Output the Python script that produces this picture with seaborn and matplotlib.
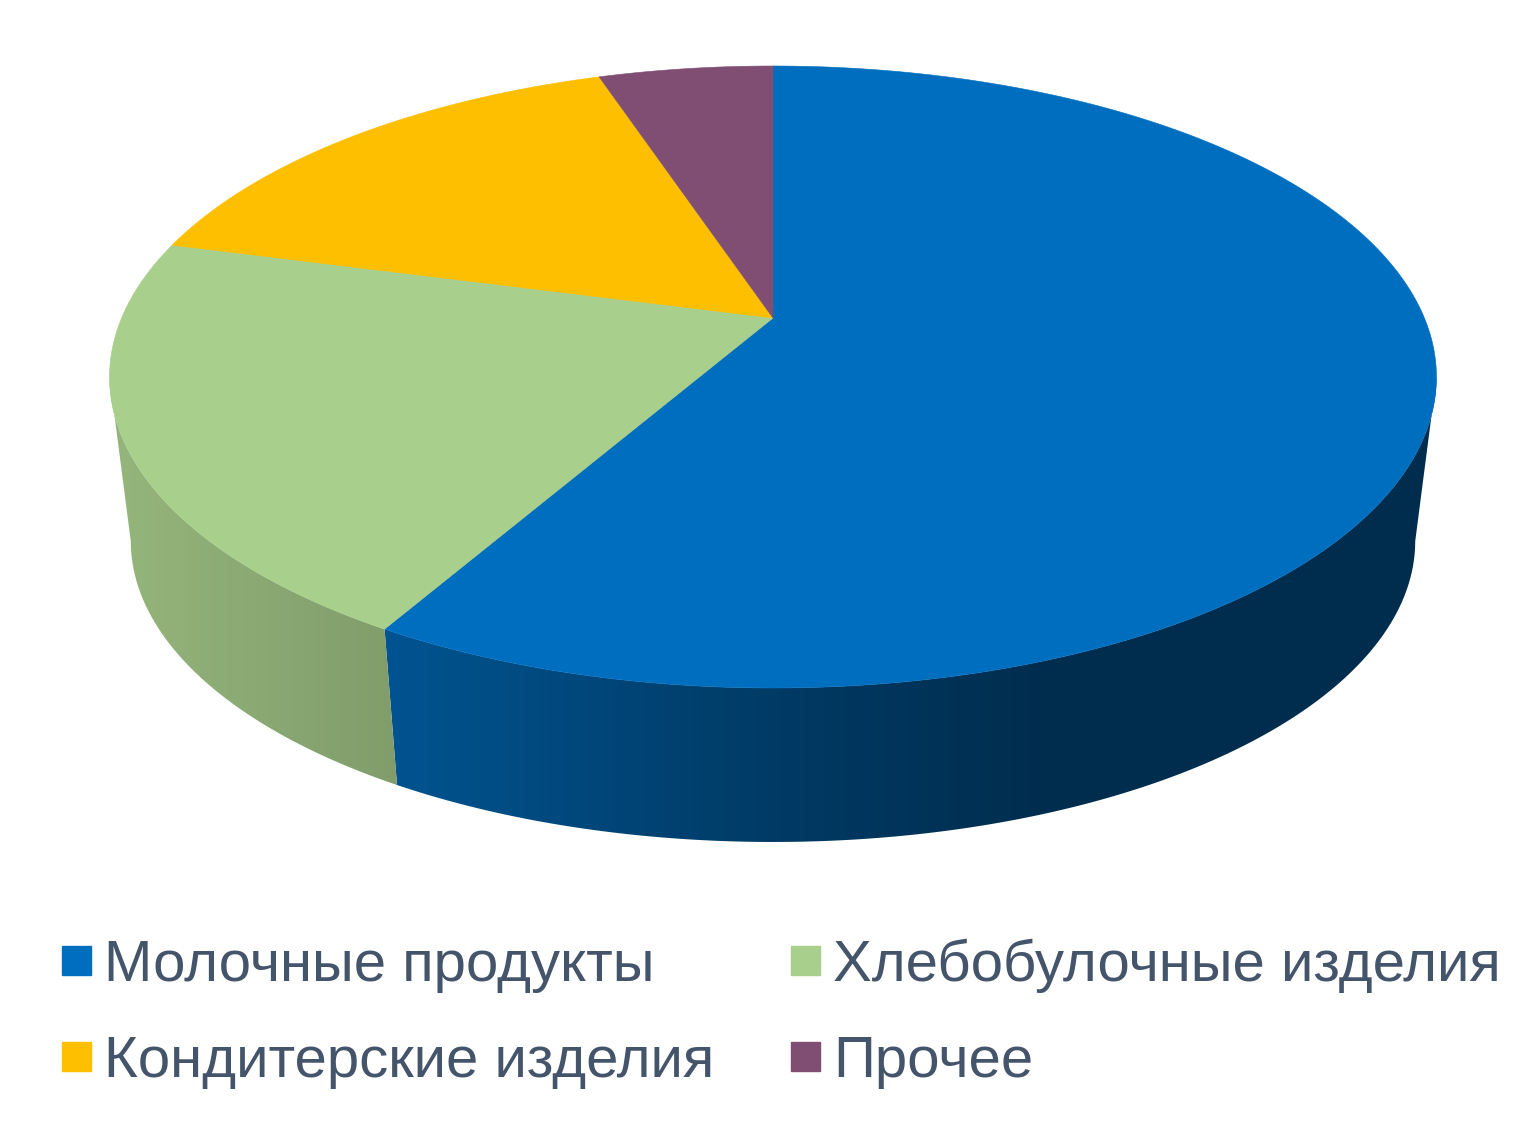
import numpy as np
import seaborn as sns
from matplotlib import pyplot as plt
from matplotlib.patches import Patch, Polygon
from matplotlib.colors import to_rgb

# shares, clockwise from 12 o'clock
categories = ['Молочные продукты', 'Хлебобулочные изделия', 'Кондитерские изделия', 'Прочее']
shares = [58.3, 20.8, 15.8, 5.1]
colors = ['#006EBE', '#A9CF8D', '#FDBF00', '#804E73']

# perspective of the disc, in picture pixels
CX, CY = 773, 318       # where the slices meet
AX, BY = 651.4, 299.8   # half axes before perspective
TILT = 0.1897
SHRINK = 0.968          # lower rim is a bit narrower
VANISH_Y = 5500
FRONT = (101, 259)      # part of the rim where the wall can be seen

sns.set_theme(style='white')
plt.rcParams['font.family'] = ['Liberation Sans', 'DejaVu Sans']
palette = sns.color_palette(colors)


def rim(deg):
    t = np.radians(deg)
    w = 1 + TILT * np.cos(t)
    return CX + AX * np.sin(t) / w, CY - BY * np.cos(t) / w


def lower(x, y):
    return CX + SHRINK * (x - CX), VANISH_Y + SHRINK * (y - VANISH_Y)


def shade(x):
    # side wall gets darker going right
    return np.interp(x, [130, 390, 800, 1050, 1420], [0.87, 0.76, 0.52, 0.41, 0.41])


fig = plt.figure(figsize=(15.36, 11.22), dpi=100)
ax = fig.add_axes([0, 0, 1, 1])

edges = np.cumsum([0] + shares) / sum(shares) * 360
grad_x = np.arange(0, 1536)

# side wall first, the top covers what is behind it
for start, end, col in zip(edges[:-1], edges[1:], palette):
    a0, a1 = max(start, FRONT[0]), min(end, FRONT[1])
    if a0 >= a1:
        continue
    x, y = rim(np.linspace(a0, a1, 300))
    xl, yl = lower(x, y)
    wall = Polygon(np.c_[np.r_[x, xl[::-1]], np.r_[y, yl[::-1]]], transform=ax.transData)
    grad = np.outer(shade(grad_x), to_rgb(col))[np.newaxis, :, :]
    img = ax.imshow(grad, extent=[0, 1536, 900, 0], aspect='auto', interpolation='bilinear', zorder=1)
    img.set_clip_path(wall)

# top of the pie
for start, end, col in zip(edges[:-1], edges[1:], palette):
    x, y = rim(np.linspace(start, end, 300))
    ax.fill(np.r_[CX, x], np.r_[CY, y], color=col, lw=0.4, zorder=2)

ax.set_xlim(0, 1536)
ax.set_ylim(1122, 0)
ax.axis('off')

# legend fills column by column
order = [0, 2, 1, 3]
handles = [Patch(color=palette[i], label=categories[i]) for i in order]
ax.legend(handles=handles, ncol=2, loc='upper left', bbox_to_anchor=(62, 939),
          bbox_transform=ax.transData, frameon=False, borderpad=0, borderaxespad=0,
          fontsize=41.9, labelcolor='#44546A', handlelength=0.5, handleheight=0.392,
          handletextpad=0.224, columnspacing=1.31, labelspacing=0.72)

fig.savefig('out.png', dpi=100, facecolor='white')
